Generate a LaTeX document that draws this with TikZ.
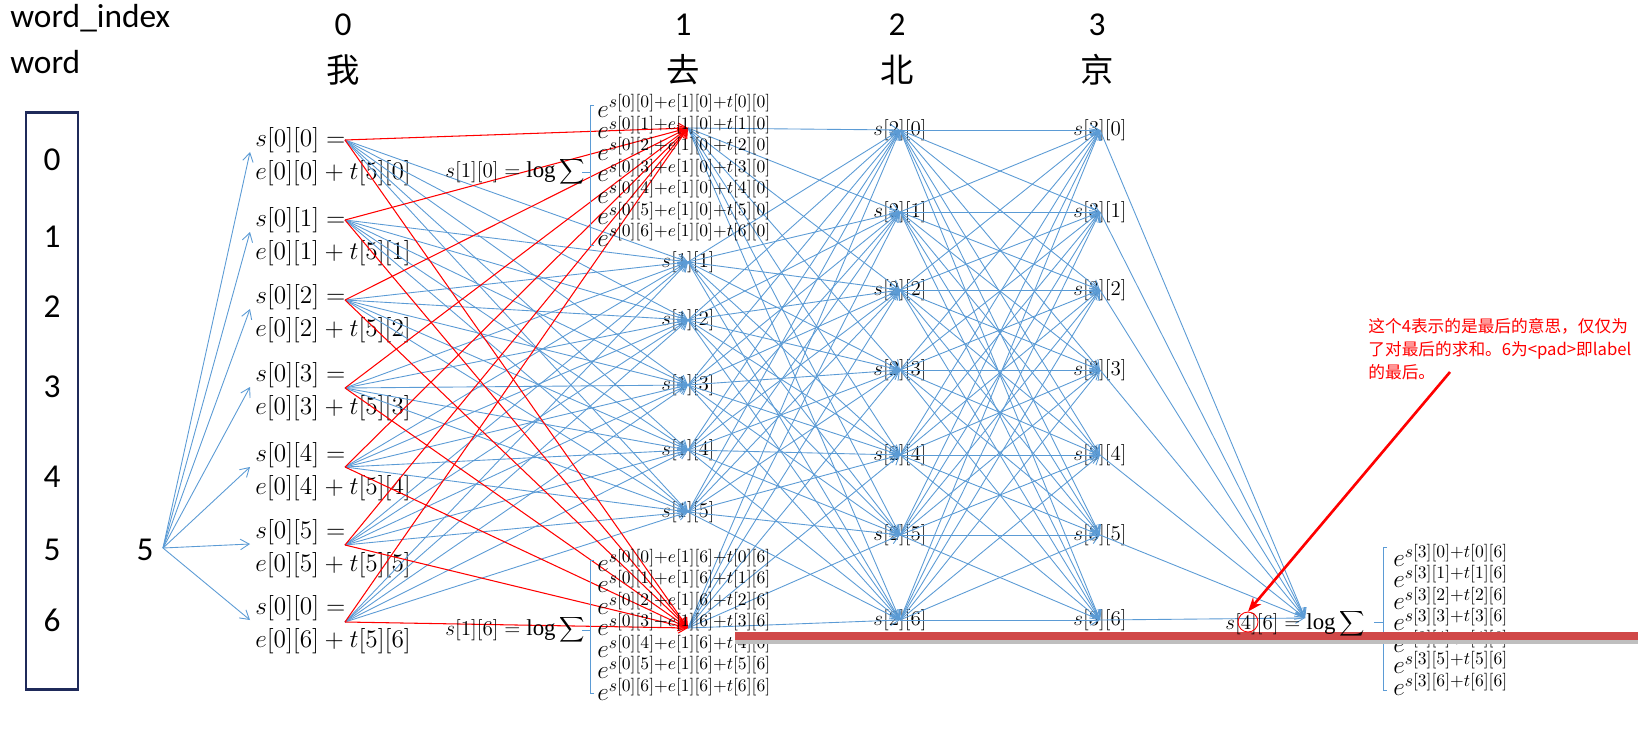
\documentclass[tikz,border=0pt]{standalone}
\usepackage{fontspec}
\setmainfont{Liberation Serif}
\newfontfamily\cjk{Noto Sans CJK SC}
\newfontfamily\lab{Carlito}
\usetikzlibrary{arrows.meta}
\definecolor{eb}{HTML}{5B9BD5}
\definecolor{bar}{HTML}{D04848}
\definecolor{navy}{HTML}{1F2A5A}
\tikzset{
  ed/.style={eb,line width=0.5pt,-{Straight Barb[length=5pt,width=6pt]}},
  er/.style={red,line width=0.6pt,-{Straight Barb[length=5pt,width=6pt]}},
  fm/.style={inner sep=0pt,anchor=west,font=\fontsize{15}{17}\selectfont},
  ls/.style={inner sep=0pt,anchor=west,font=\fontsize{13}{15}\selectfont},
  lbl/.style={inner sep=0pt,font=\fontsize{13}{15}\selectfont},
  ex/.style={inner sep=0pt,anchor=west,font=\fontsize{14.5}{15}\selectfont},
  hd/.style={inner sep=0pt,font=\lab\fontsize{19}{21}\selectfont},
  hc/.style={inner sep=0pt,font=\cjk\fontsize{19}{21}\selectfont},
  brk/.style={eb,line width=0.5pt}
}
\begin{document}
\begin{tikzpicture}[x=0.02cm,y=-0.02cm]
\fill[white] (0,0) rectangle (1638,733);
% headers
\node[hd,anchor=west] (wi) at (10,18) {word\_index};
\node[hd,anchor=west] (wd) at (10,62) {word};
\foreach \n/\x/\c in {0/343/我,1/683/去,2/897/北,3/1097/京}{
  \node[hd] (h\n) at (\x,25) {\n};
  \node[hc] (c\n) at (\x,70) {\c};
}
% index box
\node[draw=navy,line width=1.2pt,minimum width=52*0.02cm,minimum height=577*0.02cm,inner sep=0pt] (box) at (52,401) {};
\foreach \i/\y in {0/160,1/237,2/307,3/387,4/477,5/550,6/620}{
  \node[hd] (n\i) at (52,\y) {\i};
}
\node[hd] (five) at (145,550) {5};
\coordinate (src) at (163,548);
% column 0 formulas
\foreach \i/\y/\k in {0/140/0,1/220/1,2/297/2,3/375/3,4/455/4,5/532/5,6/608/0}{
  \node[fm] (sa\i) at (255,\y) {$s[0][\k] =$};
  \node[fm] (sb\i) at (255,\y+33) {$e[0][\i] + t[5][\i]$};
  \coordinate (t\i) at (250,\y+12);
  \draw[ed] (src) -- (t\i);
}
\foreach \i/\y in {0/140,1/220,2/300,3/388,4/467,5/545,6/622}{\coordinate (a\i) at (345,\y);}
\foreach \i/\y in {0/128,1/262,2/320,3/385,4/450,5/512,6/628}{\coordinate (b\i) at (688,\y);}
\foreach \i/\y in {0/130,1/212,2/290,3/370,4/455,5/535,6/620}{\coordinate (cc\i) at (900,\y); \coordinate (d\i) at (1100,\y);}
\coordinate (fin) at (1305,618);
% column labels
\foreach \i in {1,...,5}{\node[lbl] (lb\i) at (b\i) {$s[1][\i]$};}
\foreach \i in {0,...,6}{\node[lbl] (lc\i) at (cc\i) {$s[2][\i]$}; \node[lbl] (ld\i) at (d\i) {$s[3][\i]$};}
% edges
\foreach \i in {0,...,6}{
  \foreach \j in {1,...,5}{\draw[ed] (a\i) -- (b\j);}
  \foreach \j in {0,...,6}{\draw[ed] (b\i) -- (cc\j); \draw[ed] (cc\i) -- (d\j);}
  \draw[ed] (d\i) -- (fin);
}
\foreach \i in {0,...,6}{\draw[er] (a\i) -- (b0); \draw[er] (a\i) -- (b6);}
% log sums
\node[ls] (ls0) at (445,172) {$s[1][0] = \log\displaystyle\sum$};
\node[ls] (ls6) at (445,630) {$s[1][6] = \log\displaystyle\sum$};
\foreach \k in {0,...,6}{
  \node[ex] (ea\k) at (597,106+\k*21.5) {$e^{s[0][\k]+e[1][0]+t[\k][0]}$};
  \node[ex] (eb\k) at (597,560+\k*21.5) {$e^{s[0][\k]+e[1][6]+t[\k][6]}$};
  \node[ex] (ec\k) at (1393,555+\k*21.5) {$e^{s[3][\k]+t[\k][6]}$};
}
\draw[brk] (594,105) -- (590,105) -- (590,245) -- (594,245);
\draw[brk] (582,172) -- (590,172);
\draw[brk] (594,560) -- (590,560) -- (590,693) -- (594,693);
\draw[brk] (582,630) -- (590,630);
\draw[brk] (1387,547) -- (1383,547) -- (1383,690) -- (1387,690);
\draw[brk] (1374,622) -- (1383,622);
% red bar
\draw[black!25,line width=4pt] (735,640) -- (1638,640);
\draw[bar,line width=4.5pt] (735,636) -- (1638,636);
% final
\node[ls] (ls4) at (1225,624) {$s[4][6] = \log\displaystyle\sum$};
\node[draw=red,circle,minimum size=20*0.02cm,inner sep=0pt,line width=0.5pt] (circ) at (1248,622) {};
\node[inner sep=0pt,anchor=north west,text=red,font=\cjk\fontsize{9.5}{13}\selectfont,align=left] (note) at (1368,318) {这个4表示的是最后的意思，仅仅为\\了对最后的求和。6为<pad>即label\\的最后。};
\coordinate (ns) at (1450,372);
\draw[red,line width=1.5pt,-{Stealth[length=8pt,width=6pt]}] (ns) -- (circ.north);
\pgfresetboundingbox
\useasboundingbox (0,0) rectangle (1638,733);
\end{tikzpicture}
\end{document}
